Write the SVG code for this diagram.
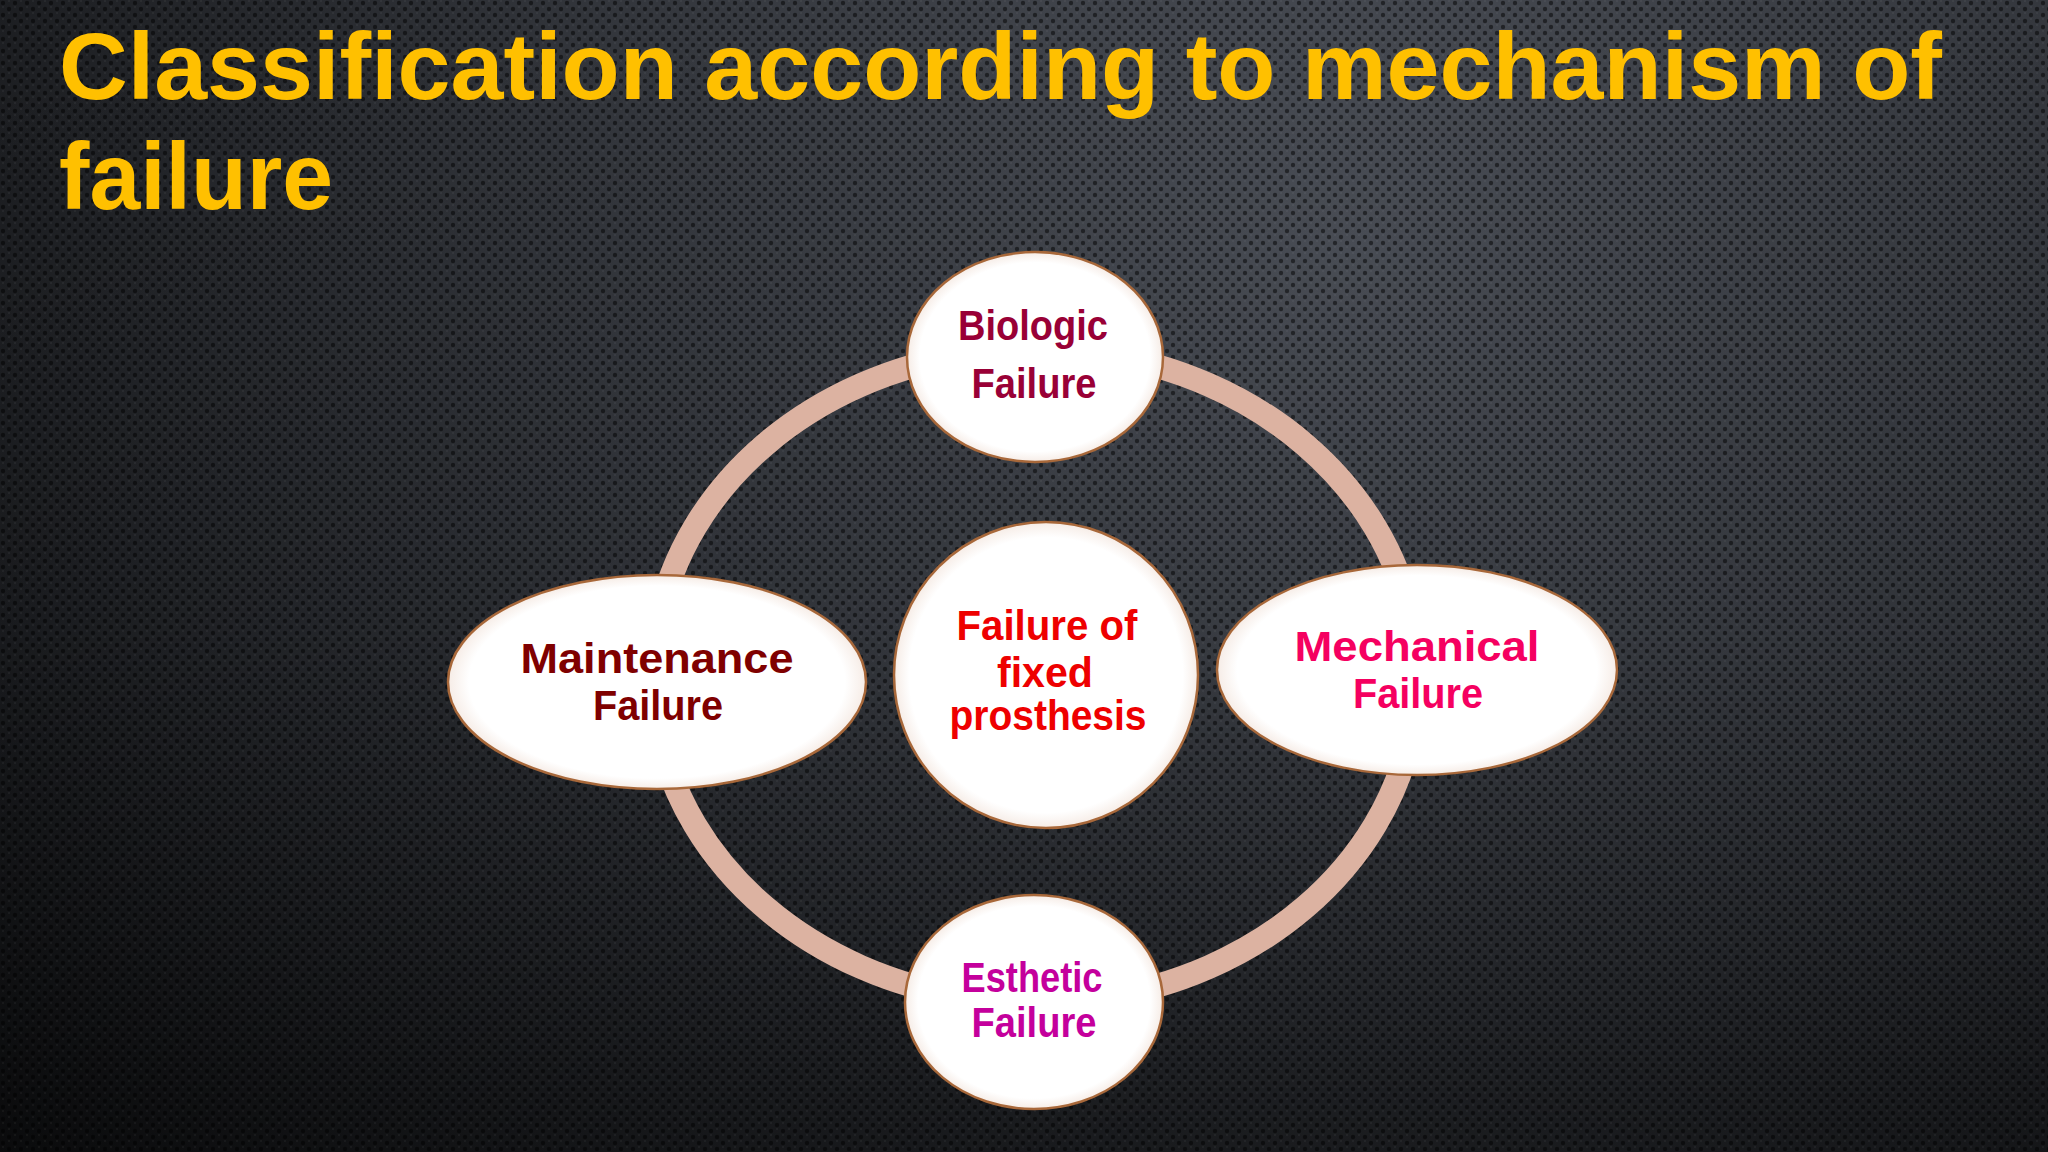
<svg xmlns="http://www.w3.org/2000/svg" width="2048" height="1152" viewBox="0 0 2048 1152">
  <defs>
    <radialGradient id="bg" cx="1350" cy="250" r="1700" gradientUnits="userSpaceOnUse">
      <stop offset="0" stop-color="#4b4f57"/>
      <stop offset="0.45" stop-color="#33363c"/>
      <stop offset="1" stop-color="#101113"/>
    </radialGradient>
    <linearGradient id="shade" x1="0" y1="0" x2="0" y2="1">
      <stop offset="0" stop-color="#000" stop-opacity="0"/>
      <stop offset="0.55" stop-color="#000" stop-opacity="0.1"/>
      <stop offset="1" stop-color="#000" stop-opacity="0.45"/>
    </linearGradient>
    <pattern id="dots" width="12" height="12" patternUnits="userSpaceOnUse">
      <circle cx="3" cy="3" r="2.2" fill="#000" fill-opacity="0.5"/>
      <circle cx="9" cy="9" r="2.2" fill="#000" fill-opacity="0.5"/>
      <circle cx="3" cy="7" r="1" fill="#fff" fill-opacity="0.05"/>
      <circle cx="9" cy="1" r="1" fill="#fff" fill-opacity="0.05"/>
    </pattern>
    <radialGradient id="nodeFill" cx="0.5" cy="0.5" r="0.5">
      <stop offset="0" stop-color="#ffffff"/>
      <stop offset="0.9" stop-color="#ffffff"/>
      <stop offset="1" stop-color="#f6ece6"/>
    </radialGradient>
  </defs>
  <style>
    .node { fill: url(#nodeFill); stroke: #a8683a; stroke-width: 2.5; }
    .ring { fill: none; stroke: #dcb2a1; stroke-width: 24; }
    .lbl { font-family: "Liberation Sans", Arial, sans-serif; font-weight: bold; font-size: 42px; text-anchor: middle; }
    .title { font-family: "Liberation Sans", Arial, sans-serif; font-weight: bold; font-size: 94px; fill: #ffc000; }
  </style>

  <rect width="2048" height="1152" fill="url(#bg)"/>
  <rect width="2048" height="1152" fill="url(#shade)"/>
  <rect width="2048" height="1152" fill="url(#dots)"/>

  <g id="title">
    <text class="title" x="59" y="99" textLength="1883" lengthAdjust="spacingAndGlyphs">Classification according to mechanism of</text>
    <text class="title" x="59" y="209" textLength="274" lengthAdjust="spacingAndGlyphs">failure</text>
  </g>

  <g id="connectors">
    <path class="ring" d="M1101.3,354 A382,327 0 0 1 1411.2,619.2"/>
    <path class="ring" d="M1411.2,732.8 A382,327 0 0 1 1101.3,998"/>
    <path class="ring" d="M968.7,998 A382,327 0 0 1 658.8,732.8"/>
    <path class="ring" d="M658.8,619.2 A382,327 0 0 1 968.7,354"/>
  </g>

  <g id="node-biologic">
    <ellipse class="node" cx="1035" cy="357" rx="128" ry="105"/>
    <text class="lbl" fill="#990036" x="1033" y="340" textLength="150" lengthAdjust="spacingAndGlyphs">Biologic</text>
    <text class="lbl" fill="#990036" x="1034" y="398" textLength="125" lengthAdjust="spacingAndGlyphs">Failure</text>
  </g>

  <g id="node-maintenance">
    <ellipse class="node" cx="657" cy="682" rx="209" ry="107"/>
    <text class="lbl" fill="#7f0000" x="657" y="673" textLength="273" lengthAdjust="spacingAndGlyphs">Maintenance</text>
    <text class="lbl" fill="#7f0000" x="658" y="720" textLength="130" lengthAdjust="spacingAndGlyphs">Failure</text>
  </g>

  <g id="node-center">
    <ellipse class="node" cx="1046" cy="675" rx="152" ry="153"/>
    <text class="lbl" fill="#ee0000" x="1047" y="640" textLength="181" lengthAdjust="spacingAndGlyphs">Failure of</text>
    <text class="lbl" fill="#ee0000" x="1045" y="687" textLength="96" lengthAdjust="spacingAndGlyphs">fixed</text>
    <text class="lbl" fill="#ee0000" x="1048" y="730" textLength="197" lengthAdjust="spacingAndGlyphs">prosthesis</text>
  </g>

  <g id="node-mechanical">
    <ellipse class="node" cx="1417" cy="670" rx="200" ry="105"/>
    <text class="lbl" fill="#f50060" x="1417" y="661" textLength="245" lengthAdjust="spacingAndGlyphs">Mechanical</text>
    <text class="lbl" fill="#f50060" x="1418" y="708" textLength="130" lengthAdjust="spacingAndGlyphs">Failure</text>
  </g>

  <g id="node-esthetic">
    <ellipse class="node" cx="1034" cy="1002" rx="129" ry="107"/>
    <text class="lbl" fill="#c4009c" x="1032" y="992" textLength="141" lengthAdjust="spacingAndGlyphs">Esthetic</text>
    <text class="lbl" fill="#c4009c" x="1034" y="1037" textLength="125" lengthAdjust="spacingAndGlyphs">Failure</text>
  </g>
</svg>
